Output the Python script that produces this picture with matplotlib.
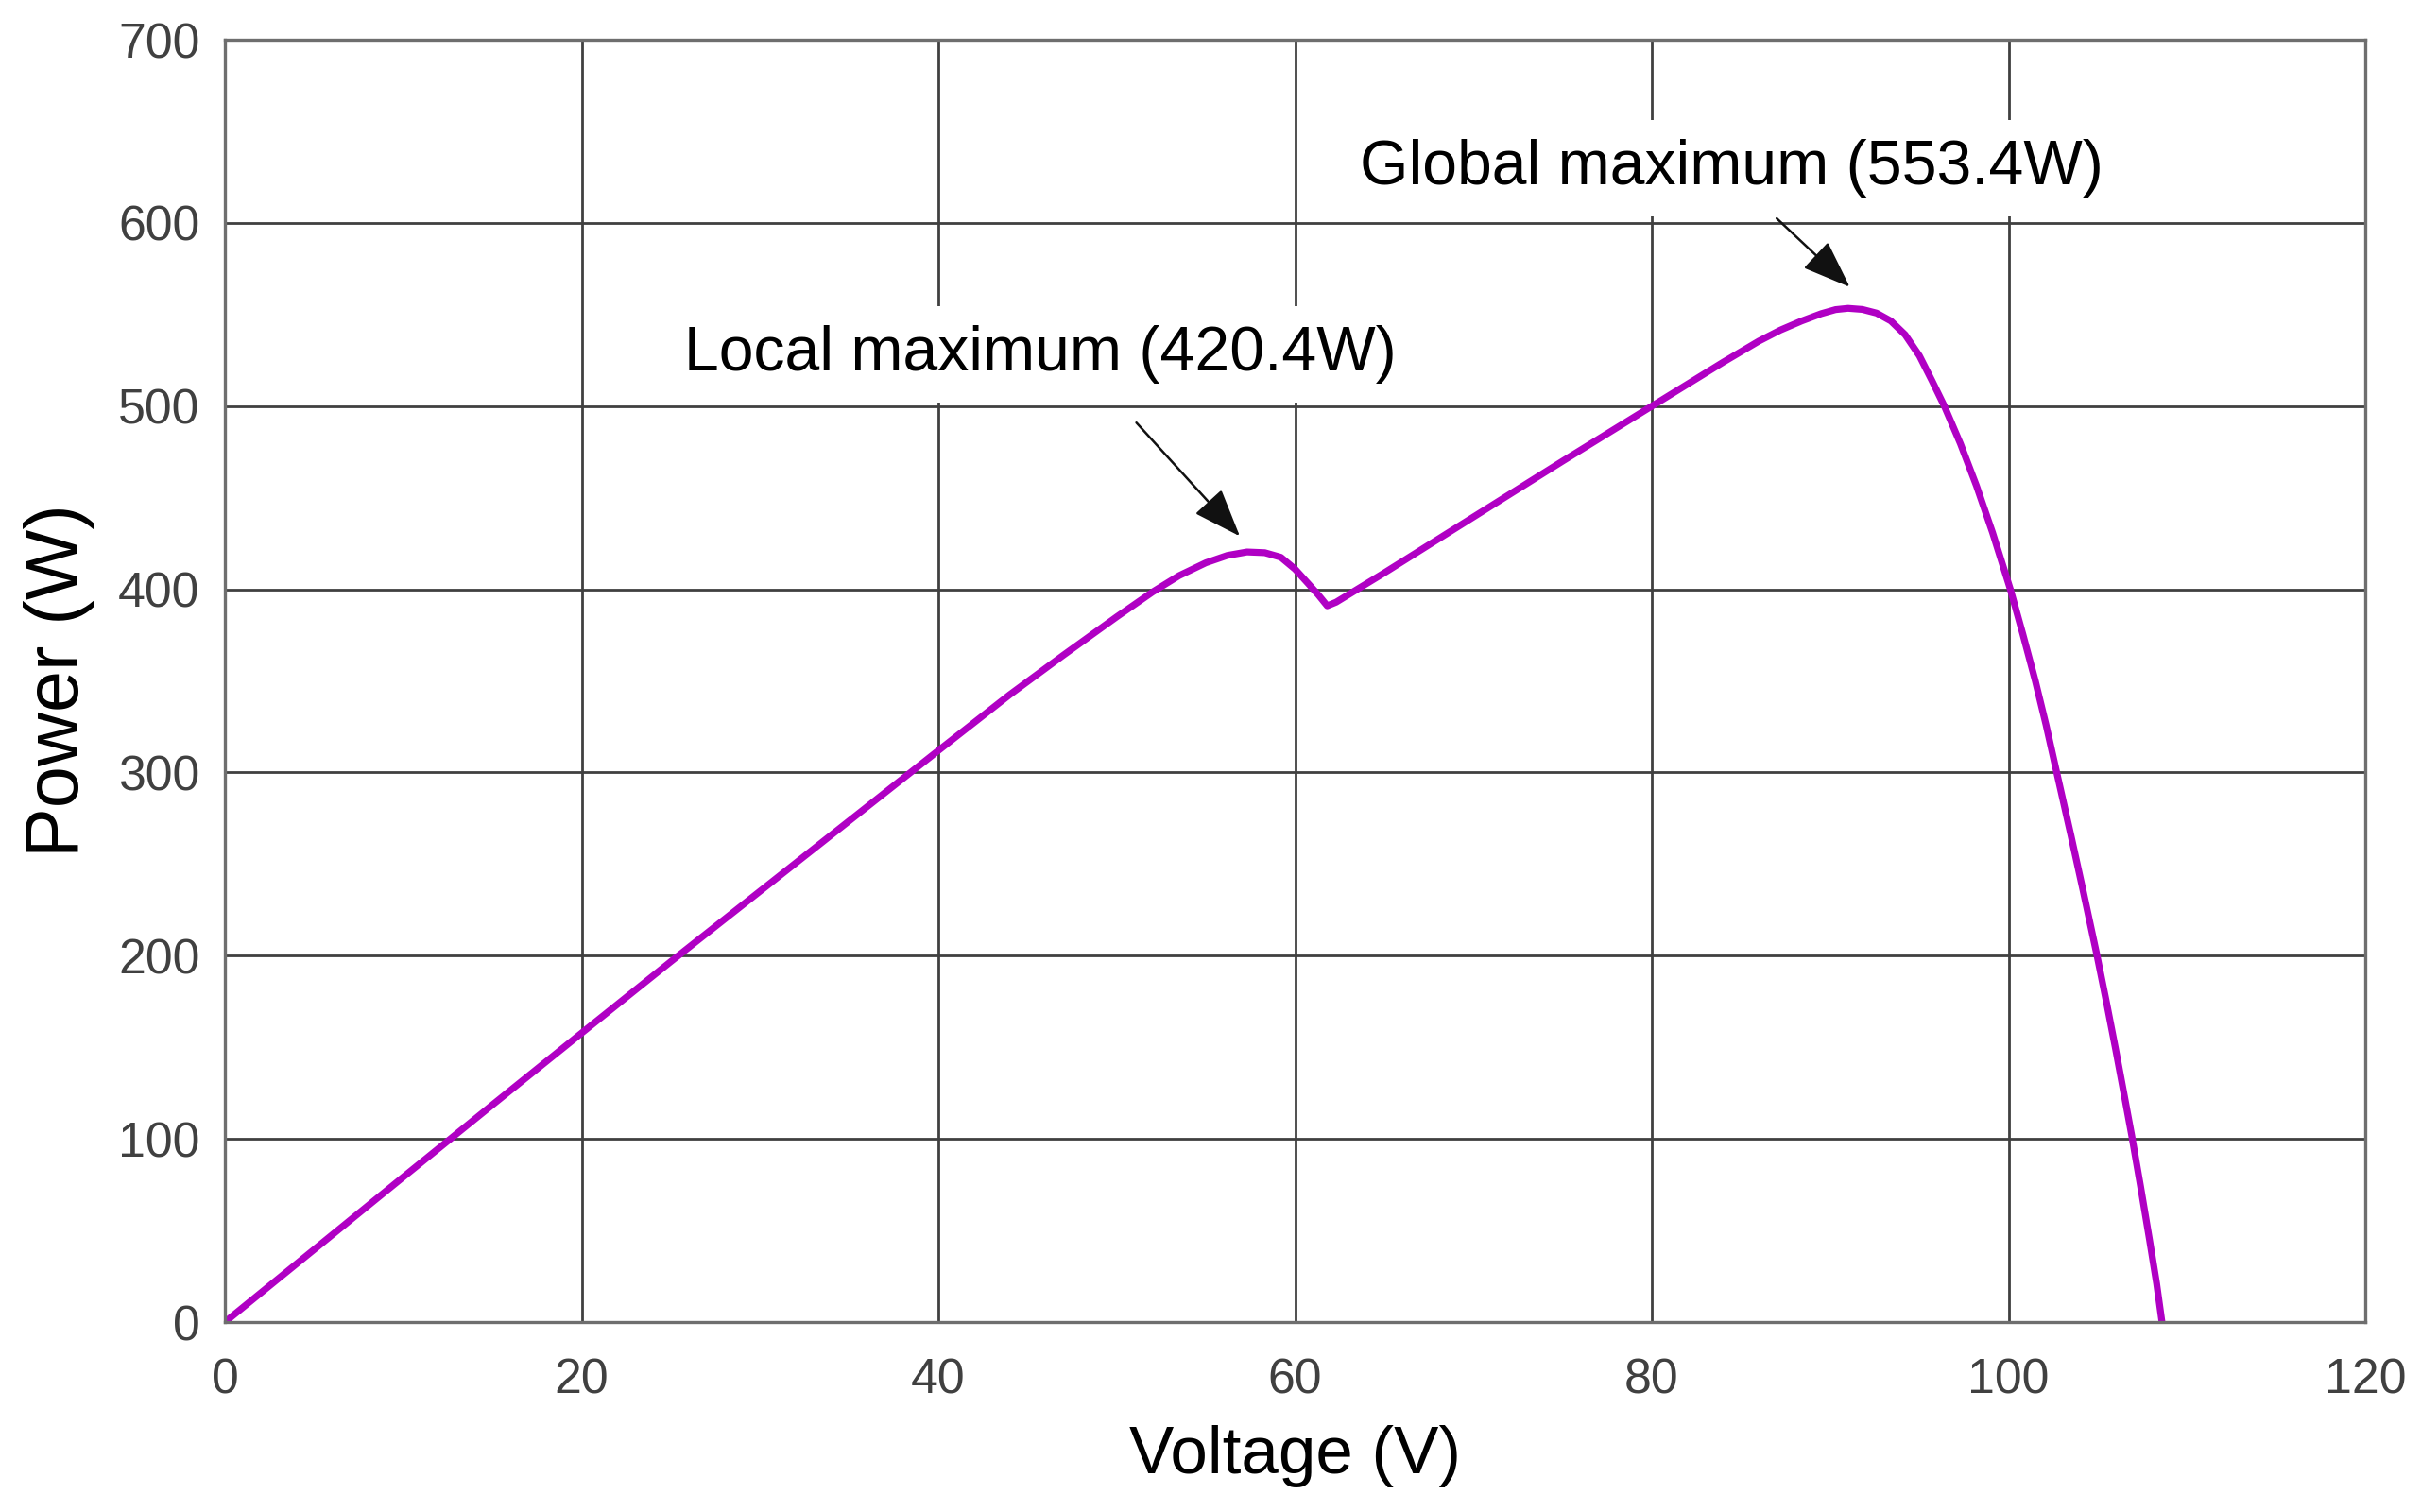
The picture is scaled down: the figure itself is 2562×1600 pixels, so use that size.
import matplotlib.pyplot as plt

plt.rcParams['font.family'] = ['Liberation Sans', 'DejaVu Sans']

# P-V curve (volts, watts)
voltage = [0, 5, 10, 15, 20, 25, 30, 35, 40, 44, 47, 50, 52, 53.5, 55, 56.2,
           57.3, 58.3, 59.2, 60, 60.7, 61.3, 61.8, 62.3, 65, 70, 75, 80, 84, 86,
           87.2, 88.4, 89.5, 90.3, 91.0, 91.8, 92.6, 93.4, 94.2, 95.0, 95.7, 96.4,
           97.3, 98.2, 99.1, 100.1, 100.8, 101.5, 102.1, 102.7, 103.5, 104.2, 104.96,
           105.5, 106.0, 106.5, 106.9, 107.4, 107.9, 108.3, 108.6]
power = [0, 39.6, 79.2, 118.6, 157.8, 196.8, 235.2, 273.6, 312, 342.5, 364, 385, 398.5, 407.5, 414.5, 418.5,
         420.4, 420, 417.5, 411, 403.5, 397, 391, 393, 409, 439.5, 470, 500, 524, 535.5,
         541.5, 546.5, 550.5, 552.7, 553.4, 552.8, 550.8, 546.5, 539, 527.5, 514, 500,
         479.5, 456.5, 431, 400, 375.5, 350, 326, 300, 265.5, 234.5, 200,
         174, 149, 123, 102, 74, 45, 21, 0]

x_ticks = [0, 20, 40, 60, 80, 100, 120]
y_ticks = [0, 100, 200, 300, 400, 500, 600, 700]

# annotation texts, their anchor (baseline centre) and arrows (start -> tip)
labels = ['Local maximum (420.4W)', 'Global maximum (553.4W)']
label_pos = [(45.7, 519.4), (84.45, 621.1)]
arrow_start = [(51.1, 491), (87.0, 602.5)]
arrow_tip = [(56.9, 429), (91.1, 565)]

fig = plt.figure(figsize=(12.81, 8.0), dpi=200)
ax = fig.add_axes([0.0929, 0.1256, 0.8841, 0.8481])

ax.plot(voltage, power, color='#b000c4', linewidth=2.6, zorder=2,
        solid_joinstyle='round', solid_capstyle='round')

ax.set_xlim(0, 120)
ax.set_ylim(0, 700)
ax.set_xticks(x_ticks)
ax.set_yticks(y_ticks)
ax.grid(True, color='#404040', linewidth=1.0)
ax.set_axisbelow(True)
ax.tick_params(axis='both', length=0, labelsize=18.7, labelcolor='#404040')
ax.tick_params(axis='x', pad=13.5)
ax.tick_params(axis='y', pad=9.5)
for side in ax.spines.values():
    side.set_color('#6e6e6e')
    side.set_linewidth(1.2)

ax.set_xlabel('Voltage (V)', fontsize=25.5, labelpad=8)
ax.set_ylabel('Power (W)', fontsize=28.5, labelpad=9)

for text, pos, start, tip in zip(labels, label_pos, arrow_start, arrow_tip):
    ax.text(pos[0], pos[1], text, fontsize=23.8, ha='center', va='baseline', zorder=4,
            bbox=dict(boxstyle='square,pad=0.3', facecolor='white', edgecolor='none'))
    ax.annotate('', xy=tip, xytext=start, zorder=5,
                arrowprops=dict(arrowstyle='-|>,head_length=0.8,head_width=0.3',
                                mutation_scale=20, color='#111111', linewidth=0.9,
                                shrinkA=0, shrinkB=0))

fig.savefig('out.png', dpi=200, facecolor='white')
